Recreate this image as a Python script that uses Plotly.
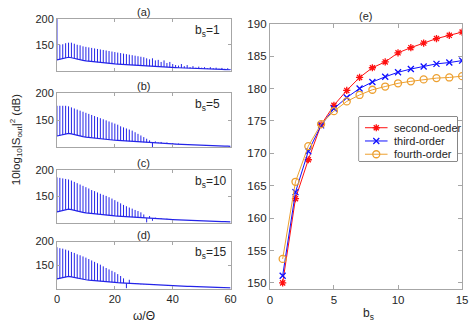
import plotly.graph_objects as go

# ---------------- data ----------------
omega = list(range(61))  # omega / Theta (harmonic index)

base = [121, 122, 123, 124.5, 126, 125, 123.5, 122, 121, 120,
        119, 118.3, 117.6, 117, 116.4, 115.8, 115.2, 114.7, 114.2, 113.7,
        113.2, 112.8, 112.4, 112, 111.6, 111.2, 110.8, 110.4, 110, 109.7,
        109.4, 109.1, 108.8, 108.5, 108.2, 107.9, 107.6, 107.3, 107, 106.7,
        106.4, 106.1, 105.8, 105.5, 105.2, 105, 104.8, 104.6, 104.4, 104.2,
        104, 103.8, 103.6, 103.4, 103.2, 103, 102.8, 102.6, 102.4, 102.2, 102]

peaks_bs1 = [200, 150, 151, 153, 154, 154, 152, 150, 149, 147,
             146, 145, 144, 143, 142, 141, 140, 139, 138, 137,
             136, 135, 134, 133, 132, 131, 130, 129, 128, 127,
             126, 124, 122, 124, 120, 121, 117, 120, 115, 117,
             113, 111, 110, 113, 109, 111, 107, 109, 106, 108,
             106, 107, 105, 107, 105, 106, 104, 105.5, 104, 105, 103.5]

peaks_bs5 = [177, 177, 177, 177, 176, 174, 172, 170, 168, 166,
             164, 162, 160, 158, 156, 154, 152, 150, 148, 146,
             144, 142, 139, 137, 135, 133, 131, 128, 125, 122,
             119, 116, 113, 100, 111, 109, 110, 108, 109, 107.5,
             108, 106.5, 107, 105.5, 106, 105] + [None] * 15

peaks_bs10 = [186, 185, 184, 183, 182, 180, 177.5, 175, 172.5, 170,
              167.5, 165, 162, 160, 157.5, 155, 153, 151, 148.5, 146,
              143, 140, 137, 134, 131.5, 129, 127, 124.5, 122.5, 120,
              116, 101, 113, 104, 110, 108.5, 109, 107.5, 108, 106.5,
              107, 106] + [None] * 19

peaks_bs15 = [188, 186, 185, 183, 181, 178, 176, 173, 171, 168.5,
              166, 163, 160, 157, 154, 151, 147.5, 144, 141, 138,
              135, 131, 127, 122, 101, 119, 112, 110, 111, 109,
              110, 108.5, 109] + [None] * 28

panel_titles = ["(a)", "(b)", "(c)", "(d)"]
panel_labels = ["b<sub>s</sub>=1", "b<sub>s</sub>=5", "b<sub>s</sub>=10", "b<sub>s</sub>=15"]

bs = list(range(1, 16))
second_order = [150, 163, 169, 174.4, 177.4, 179.7, 181.7, 183.2, 184.1, 185.5,
                186.3, 187.0, 187.7, 188.2, 188.7]
third_order = [151.1, 164.0, 170.3, 174.3, 176.9, 178.6, 180.0, 181.0, 181.8, 182.5,
               183.0, 183.4, 183.8, 184.0, 184.3]
fourth_order = [153.7, 165.6, 171.1, 174.5, 176.5, 178.0, 179.0, 179.8, 180.3, 180.8,
                181.1, 181.4, 181.6, 181.7, 181.9]
series_names = ["second-oeder", "third-order", "fourth-order"]

# ---------------- styling / layout ----------------
W, H = 474, 327
BLUE_SPEC = "#2424E8"
FRAME = "#a6a6a6"
TXT = "#262626"
FONT = "Liberation Sans, Arial, sans-serif"
series_colors = ["#FF1010", "#1010FF", "#EDA030"]
series_symbols = ["asterisk-open", "x-thin-open", "circle-open"]
series_msize = [6, 6, 7]

fig = go.Figure()

left_px = (55, 232)
panels_px = [(13, 66), (89, 144), (167, 221), (240, 288)]
all_peaks = [peaks_bs1, peaks_bs5, peaks_bs10, peaks_bs15]


def ann(text, px, py, size=11, xanchor="center", yanchor="middle", **kw):
    return dict(text=text, x=px / W, y=1 - py / H, xref="paper", yref="paper",
                xanchor=xanchor, yanchor=yanchor, showarrow=False,
                font=dict(family=FONT, size=size, color=TXT), **kw)


annotations = []
for i, peaks in enumerate(all_peaks):
    n = "" if i == 0 else str(i + 1)
    xs, ys = [], []
    for w, b, p in zip(omega, base, peaks):
        if p is None:
            continue
        xs += [w, w, None]
        ys += [b, p, None]
    fig.add_trace(go.Scatter(x=xs, y=ys, mode="lines",
                             line=dict(color=BLUE_SPEC, width=1),
                             xaxis="x" + n, yaxis="y" + n, showlegend=False,
                             hoverinfo="skip"))
    fig.add_trace(go.Scatter(x=omega, y=base, mode="lines",
                             line=dict(color=BLUE_SPEC, width=1.2),
                             xaxis="x" + n, yaxis="y" + n, showlegend=False,
                             hoverinfo="skip"))
    top, bot = panels_px[i]
    common = dict(showline=True, linecolor=FRAME, linewidth=1, mirror="ticks",
                  ticks="inside", ticklen=3, tickcolor=FRAME, showgrid=False,
                  zeroline=False, tickfont=dict(family=FONT, size=11, color=TXT))
    fig.layout["xaxis" + n] = dict(domain=[left_px[0] / W, left_px[1] / W],
                                   range=[0, 60], tickvals=[0, 20, 40, 60],
                                   showticklabels=(i == 3), anchor="y" + n, **common)
    fig.layout["yaxis" + n] = dict(domain=[1 - bot / H, 1 - top / H],
                                   range=[100, 200], tickvals=[150, 200],
                                   anchor="x" + n, **common)
    annotations.append(ann(panel_titles[i], (left_px[0] + left_px[1]) / 2, top - 7))
    annotations.append(ann(panel_labels[i], 194, top + 12, size=12, xanchor="left"))

# right panel
for name, vals, col, sym, ms in zip(series_names, [second_order, third_order, fourth_order],
                                    series_colors, series_symbols, series_msize):
    fig.add_trace(go.Scatter(x=bs, y=vals, mode="lines+markers", name=name,
                             line=dict(color=col, width=1),
                             marker=dict(symbol=sym, size=ms, color=col,
                                         line=dict(color=col, width=1.3)),
                             xaxis="x5", yaxis="y5", showlegend=False))

common_r = dict(showline=True, linecolor=FRAME, linewidth=1, mirror="ticks",
                ticks="inside", ticklen=4, tickcolor=FRAME, showgrid=False,
                zeroline=False, tickfont=dict(family=FONT, size=11.5, color=TXT))
fig.layout["xaxis5"] = dict(domain=[272 / W, 468 / W], range=[0, 15],
                            tickvals=[0, 5, 10, 15], anchor="y5", **common_r)
fig.layout["yaxis5"] = dict(domain=[1 - 288 / H, 1 - 18 / H], range=[149.1, 190],
                            tickvals=[150, 155, 160, 165, 170, 175, 180, 185, 190],
                            anchor="x5", **common_r)

# legend box (hand-drawn to match the compact MATLAB legend)
leg_x0, leg_x1, leg_y0, leg_y1 = 363, 463, 113, 158
leg_rows = [124, 137.5, 151]
fig.layout["xaxis6"] = dict(domain=[leg_x0 / W, leg_x1 / W], range=[leg_x0, leg_x1],
                            visible=False, fixedrange=True, anchor="y6")
fig.layout["yaxis6"] = dict(domain=[1 - leg_y1 / H, 1 - leg_y0 / H], range=[leg_y1, leg_y0],
                            visible=False, fixedrange=True, anchor="x6")
shapes = [dict(type="rect", xref="paper", yref="paper",
               x0=leg_x0 / W, x1=leg_x1 / W, y0=1 - leg_y1 / H, y1=1 - leg_y0 / H,
               line=dict(color=TXT, width=1), fillcolor="white", layer="below")]
for name, col, sym, ms, ry in zip(series_names, series_colors, series_symbols,
                                  series_msize, leg_rows):
    fig.add_trace(go.Scatter(x=[leg_x0 + 6, leg_x0 + 29], y=[ry, ry], mode="lines",
                             line=dict(color=col, width=1), xaxis="x6", yaxis="y6",
                             showlegend=False, hoverinfo="skip"))
    fig.add_trace(go.Scatter(x=[leg_x0 + 17.5], y=[ry], mode="markers",
                             marker=dict(symbol=sym, size=ms, color=col,
                                         line=dict(color=col, width=1.3)),
                             xaxis="x6", yaxis="y6", showlegend=False, hoverinfo="skip"))
    annotations.append(ann(name, leg_x0 + 34, ry, size=11, xanchor="left"))

annotations += [
    ann("(e)", (272 + 468) / 2, 10),
    ann("ω/Θ", 144, 316, size=12),
    ann("b<sub>s</sub>", 373, 314, size=12),
    ann("10log<sub>10</sub>|S<sub>out</sub>|<sup>2</sup> (dB)", 13, 136, size=11.5,
        textangle=-90),
]

fig.update_layout(
    width=W, height=H, margin=dict(l=0, r=0, t=0, b=0),
    paper_bgcolor="white", plot_bgcolor="white",
    annotations=annotations, shapes=shapes, showlegend=False,
    font=dict(family=FONT),
)

fig.write_html("out.html")
